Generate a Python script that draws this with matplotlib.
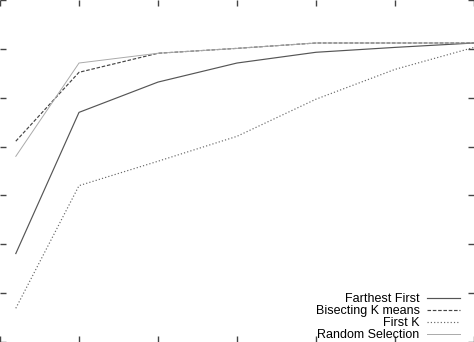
import matplotlib
matplotlib.use("Agg")
import matplotlib.pyplot as plt

x = [0.2, 1, 2, 3, 4, 5, 6]
farthest_first = [1.81, 4.70, 5.32, 5.71, 5.93, 6.03, 6.12]
bisecting_kmeans = [4.11, 5.52, 5.91, 6.01, 6.12, 6.12, 6.12]
first_k = [0.69, 3.20, 3.70, 4.21, 4.97, 5.58, 6.03]
random_selection = [3.80, 5.71, 5.91, 6.01, 6.12, 6.12, 6.12]
labels = ["Farthest First", "Bisecting K means", "First K", "Random Selection"]

plt.rcParams['font.family'] = ['Liberation Sans', 'DejaVu Sans']
fig = plt.figure(figsize=(4.74, 3.42), dpi=100)
ax = fig.add_axes([0, 0, 1, 1])

ax.plot(x, farthest_first, color='#555555', lw=0.85, ls='-', label=labels[0])
ax.plot(x, bisecting_kmeans, color='#444444', lw=0.85, ls=(0, (3, 1.5)), label=labels[1])
ax.plot(x, first_k, color='#666666', lw=0.85, ls=(0, (1, 1.8)), label=labels[2])
ax.plot(x, random_selection, color='#aaaaaa', lw=0.7, ls='-', label=labels[3])

ax.set_xlim(0, 6)
ax.set_ylim(0, 7)
ax.set_xticks(range(0, 7))
ax.set_yticks(range(0, 8))
ax.tick_params(direction='in', length=4, width=1, color='#444444',
               top=True, right=True, bottom=True, left=True,
               labelbottom=False, labelleft=False)
for s in ax.spines.values():
    s.set_visible(False)

leg = ax.legend(loc='lower right', frameon=False, markerfirst=False,
                fontsize=9, handlelength=2.6, labelspacing=0.0,
                handletextpad=0.6, borderaxespad=0.0,
                bbox_to_anchor=(0.98, -0.013))

fig.savefig('out.png', dpi=100)
